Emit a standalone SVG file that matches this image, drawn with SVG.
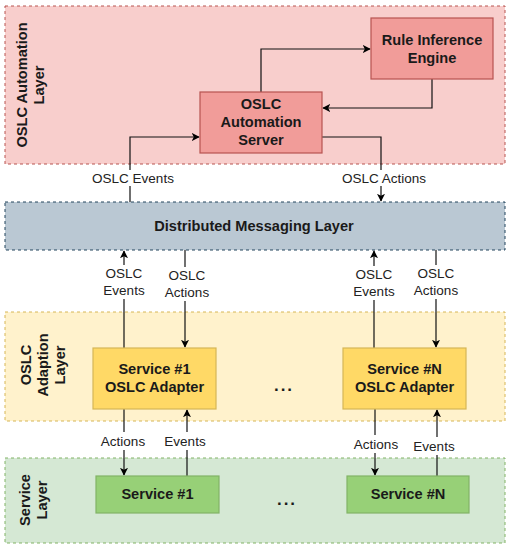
<svg xmlns="http://www.w3.org/2000/svg" width="511" height="550" viewBox="0 0 511 550">
<defs>
<marker id="arr" viewBox="0 0 10 10" refX="9" refY="5" markerWidth="8" markerHeight="8" markerUnits="userSpaceOnUse" orient="auto">
<path d="M0,0 L10,5 L0,10 L2.5,5 Z" fill="#000"/>
</marker>
<style>
.layer{stroke-width:1;stroke-dasharray:3,3}
.box{stroke-width:1.2}
.bt{font-family:"Liberation Sans",Arial,sans-serif;font-weight:bold;font-size:14.6px;fill:#1a1a1a;text-anchor:middle}
.lt{font-family:"Liberation Sans",Arial,sans-serif;font-size:13.5px;fill:#222;text-anchor:middle}
.con{fill:none;stroke:#111;stroke-width:1.2}
.lbg{fill:#fff}
</style>
</defs>
<rect width="511" height="550" fill="#fff"/>
<g id="automation-layer">
<rect class="layer" x="5" y="6" width="500" height="158" fill="#f8cecc" stroke="#b85450"/>
<text class="bt" transform="translate(22,85) rotate(-90)" dy="0.35em">OSLC Automation</text>
<text class="bt" transform="translate(39,85) rotate(-90)" dy="0.35em">Layer</text>
</g>
<g id="messaging-layer">
<rect class="layer" x="5" y="202" width="500" height="48" fill="#bac8d3" stroke="#23445d"/>
<text class="bt" x="254" y="231">Distributed Messaging Layer</text>
</g>
<g id="adaption-layer">
<rect class="layer" x="5" y="312" width="500" height="109" fill="#fff2cc" stroke="#d6b656"/>
<text class="bt" transform="translate(26,365) rotate(-90)" dy="0.35em">OSLC</text>
<text class="bt" transform="translate(43,365) rotate(-90)" dy="0.35em">Adaption</text>
<text class="bt" transform="translate(60,365) rotate(-90)" dy="0.35em">Layer</text>
</g>
<g id="service-layer">
<rect class="layer" x="5" y="458" width="500" height="85" fill="#d5e8d4" stroke="#82b366"/>
<text class="bt" transform="translate(25,500) rotate(-90)" dy="0.35em">Service</text>
<text class="bt" transform="translate(42,500) rotate(-90)" dy="0.35em">Layer</text>
</g>
<g id="connectors">
<path class="con" d="M261,92 V49 H370" marker-end="url(#arr)"/>
<path class="con" d="M432,79 V108 H323" marker-end="url(#arr)"/>
<path class="con" d="M130,202 V137 H199" marker-end="url(#arr)"/>
<path class="con" d="M322,137 H381 V201" marker-end="url(#arr)"/>
<path class="con" d="M124,348 V251" marker-end="url(#arr)"/>
<path class="con" d="M185,250 V347" marker-end="url(#arr)"/>
<path class="con" d="M374,348 V251" marker-end="url(#arr)"/>
<path class="con" d="M436,250 V347" marker-end="url(#arr)"/>
<path class="con" d="M124,409 V475" marker-end="url(#arr)"/>
<path class="con" d="M187,476 V410" marker-end="url(#arr)"/>
<path class="con" d="M375,409 V475" marker-end="url(#arr)"/>
<path class="con" d="M437,476 V410" marker-end="url(#arr)"/>
<rect class="lbg" x="91" y="170" width="84" height="16"/>
<text class="lt" x="133" y="183">OSLC Events</text>
<rect class="lbg" x="340" y="170" width="90" height="16"/>
<text class="lt" x="384" y="183">OSLC Actions</text>
<rect class="lbg" x="103" y="265" width="42" height="34"/>
<text class="lt" x="124" y="278">OSLC</text>
<text class="lt" x="124" y="295">Events</text>
<rect class="lbg" x="163" y="267" width="48" height="34"/>
<text class="lt" x="187" y="280">OSLC</text>
<text class="lt" x="187" y="297">Actions</text>
<rect class="lbg" x="353" y="266" width="42" height="34"/>
<text class="lt" x="374" y="279">OSLC</text>
<text class="lt" x="374" y="296">Events</text>
<rect class="lbg" x="412" y="265" width="48" height="34"/>
<text class="lt" x="436" y="278">OSLC</text>
<text class="lt" x="436" y="295">Actions</text>
<rect class="lbg" x="99" y="432" width="48" height="18"/>
<text class="lt" x="123" y="446">Actions</text>
<rect class="lbg" x="163" y="432" width="44" height="18"/>
<text class="lt" x="185" y="446">Events</text>
<rect class="lbg" x="352" y="435" width="48" height="18"/>
<text class="lt" x="376" y="449">Actions</text>
<rect class="lbg" x="412" y="437" width="44" height="18"/>
<text class="lt" x="434" y="451">Events</text>
</g>
<g id="rule-engine">
<rect class="box" x="371" y="18" width="122" height="61" fill="#f19c99" stroke="#b85450"/>
<text class="bt" x="432" y="45">Rule Inference</text>
<text class="bt" x="432" y="63">Engine</text>
</g>
<g id="automation-server">
<rect class="box" x="200" y="92" width="122" height="61" fill="#f19c99" stroke="#b85450"/>
<text class="bt" x="261" y="109">OSLC</text>
<text class="bt" x="261" y="127">Automation</text>
<text class="bt" x="261" y="145">Server</text>
</g>
<g id="adapter-1">
<rect class="box" x="93" y="348" width="123" height="61" fill="#ffd966" stroke="#d6b656"/>
<text class="bt" x="154.5" y="374">Service #1</text>
<text class="bt" x="154.5" y="392">OSLC Adapter</text>
</g>
<g id="adapter-ellipsis">
<text class="bt" x="284" y="391" style="font-size:17px;letter-spacing:2px">...</text>
</g>
<g id="adapter-n">
<rect class="box" x="343" y="348" width="123" height="61" fill="#ffd966" stroke="#d6b656"/>
<text class="bt" x="404.5" y="374">Service #N</text>
<text class="bt" x="404.5" y="392">OSLC Adapter</text>
</g>
<g id="service-1">
<rect class="box" x="96" y="476" width="123" height="37" fill="#97d077" stroke="#82b366"/>
<text class="bt" x="157.5" y="499">Service #1</text>
</g>
<g id="service-ellipsis">
<text class="bt" x="287" y="505" style="font-size:17px;letter-spacing:2px">...</text>
</g>
<g id="service-n">
<rect class="box" x="347" y="476" width="122" height="37" fill="#97d077" stroke="#82b366"/>
<text class="bt" x="408" y="499">Service #N</text>
</g>
</svg>
